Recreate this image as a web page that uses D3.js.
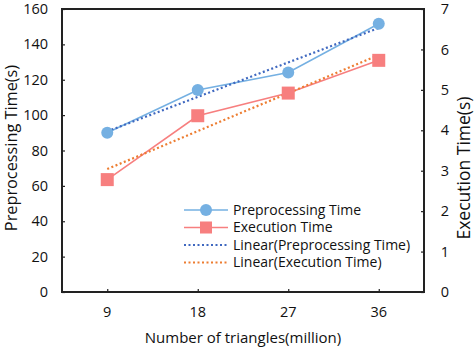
<!DOCTYPE html>
<html>
<head>
<meta charset="utf-8">
<script src="https://cdn.jsdelivr.net/npm/d3@7"></script>
<style>
  body { margin: 0; background: #fff; }
  text { font-family: "Open Sans", "Noto Sans", sans-serif; fill: #111; }
</style>
</head>
<body>
<svg id="chart" width="474" height="349"></svg>
<script>
// data
var categories = ['9', '18', '27', '36'];
var preprocTime = [90, 114.2, 124.1, 151.7];
var execTime = [2.78, 4.36, 4.92, 5.73];
// trendline end points (as drawn in the chart)
var trendCats = ['9', '36'];
var preprocTrend = [90.8, 149.3];
var execTrend = [3.04, 5.86];
var leftTicks = [0, 20, 40, 60, 80, 100, 120, 140, 160];
var rightTicks = [0, 1, 2, 3, 4, 5, 6, 7];

var svg = d3.select('#chart');
var plotL = 62, plotR = 424, plotT = 9, plotB = 292;

var x = d3.scalePoint().domain(categories).range([plotL, plotR]).padding(0.5);
var yL = d3.scaleLinear().domain([0, 160]).range([plotB, plotT]);
var yR = d3.scaleLinear().domain([0, 7]).range([plotB, plotT]);

var blue = '#75b0e2', red = '#f77f7f';

// axes (ticks point inward)
var axL = svg.append('g').attr('transform', 'translate(' + plotL + ',0)')
  .call(d3.axisRight(yL).tickValues(leftTicks).tickSize(3).tickFormat(''));
var axR = svg.append('g').attr('transform', 'translate(' + plotR + ',0)')
  .call(d3.axisLeft(yR).tickValues(rightTicks).tickSize(3).tickFormat(''));
var axB = svg.append('g').attr('transform', 'translate(0,' + plotB + ')')
  .call(d3.axisTop(x).tickSize(3).tickFormat(''));
[axL, axR, axB].forEach(function(a) {
  a.select('.domain').remove();
  a.selectAll('line').attr('stroke', '#222').attr('stroke-width', 1.2);
});

// frame
svg.append('rect')
  .attr('x', plotL).attr('y', plotT)
  .attr('width', plotR - plotL).attr('height', plotB - plotT)
  .attr('fill', 'none').attr('stroke', '#222').attr('stroke-width', 2);

// tick labels
svg.selectAll('.lt').data(leftTicks).enter().append('text')
  .attr('x', plotL - 14).attr('y', function(d) { return yL(d); })
  .attr('dy', '0.35em').attr('text-anchor', 'end').attr('font-size', 14.5)
  .text(function(d) { return d; });
svg.selectAll('.rt').data(rightTicks).enter().append('text')
  .attr('x', plotR + 21).attr('y', function(d) { return yR(d); })
  .attr('dy', '0.35em').attr('text-anchor', 'middle').attr('font-size', 14.5)
  .text(function(d) { return d; });
svg.selectAll('.bt').data(categories).enter().append('text')
  .attr('x', function(d) { return x(d); }).attr('y', 317)
  .attr('text-anchor', 'middle').attr('font-size', 14.5)
  .text(function(d) { return d; });

// axis titles
svg.append('text').attr('x', 243).attr('y', 343)
  .attr('text-anchor', 'middle').attr('font-size', 15)
  .text('Number of triangles(million)');
svg.append('text').attr('transform', 'translate(17,148) rotate(-90)')
  .attr('text-anchor', 'middle').attr('font-size', 16.3)
  .text('Preprocessing Time(s)');
svg.append('text').attr('transform', 'translate(470,168) rotate(-90)')
  .attr('text-anchor', 'middle').attr('font-size', 17.5)
  .text('Execution Time(s)');

// series lines
var lineL = d3.line().x(function(d, i) { return x(categories[i]); }).y(function(d) { return yL(d); });
var lineR = d3.line().x(function(d, i) { return x(categories[i]); }).y(function(d) { return yR(d); });

svg.append('path').datum(preprocTime).attr('d', lineL)
  .attr('fill', 'none').attr('stroke', blue).attr('stroke-width', 1.6);
svg.append('path').datum(execTime).attr('d', lineR)
  .attr('fill', 'none').attr('stroke', red).attr('stroke-width', 1.6);

// trend lines
var trendL = d3.line().x(function(d, i) { return x(trendCats[i]); }).y(function(d) { return yL(d); });
var trendR = d3.line().x(function(d, i) { return x(trendCats[i]); }).y(function(d) { return yR(d); });
svg.append('path').datum(preprocTrend).attr('d', trendL)
  .attr('fill', 'none').attr('stroke', '#3f68c0').attr('stroke-width', 2.2)
  .attr('stroke-dasharray', '2,2.5');
svg.append('path').datum(execTrend).attr('d', trendR)
  .attr('fill', 'none').attr('stroke', '#ed7d31').attr('stroke-width', 2.2)
  .attr('stroke-dasharray', '2,2.5');

// markers
svg.selectAll('.pm').data(preprocTime).enter().append('circle')
  .attr('cx', function(d, i) { return x(categories[i]); })
  .attr('cy', function(d) { return yL(d); })
  .attr('r', 6).attr('fill', blue);
svg.selectAll('.em').data(execTime).enter().append('rect')
  .attr('x', function(d, i) { return x(categories[i]) - 6.5; })
  .attr('y', function(d) { return yR(d) - 6.5; })
  .attr('width', 13).attr('height', 13).attr('fill', red);

// legend
var legend = [
  { label: 'Preprocessing Time', color: blue, marker: 'circle' },
  { label: 'Execution Time', color: red, marker: 'square' },
  { label: 'Linear(Preprocessing Time)', color: '#3f68c0', marker: 'dot' },
  { label: 'Linear(Execution Time)', color: '#ed7d31', marker: 'dot' }
];
var lg = svg.append('g');
legend.forEach(function(d, i) {
  var yy = 210 + i * 17.5;
  var line = lg.append('line').attr('x1', 184).attr('x2', 228)
    .attr('y1', yy).attr('y2', yy).attr('stroke', d.color);
  if (d.marker === 'dot') {
    line.attr('stroke-width', 2.2).attr('stroke-dasharray', '2,2.5');
  } else {
    line.attr('stroke-width', 1.6);
  }
  if (d.marker === 'circle') {
    lg.append('circle').attr('cx', 206).attr('cy', yy).attr('r', 6).attr('fill', d.color);
  } else if (d.marker === 'square') {
    lg.append('rect').attr('x', 200).attr('y', yy - 6).attr('width', 12).attr('height', 12).attr('fill', d.color);
  }
  lg.append('text').attr('x', 233).attr('y', yy).attr('dy', '0.35em')
    .attr('font-size', 14).text(d.label);
});
</script>
</body>
</html>
